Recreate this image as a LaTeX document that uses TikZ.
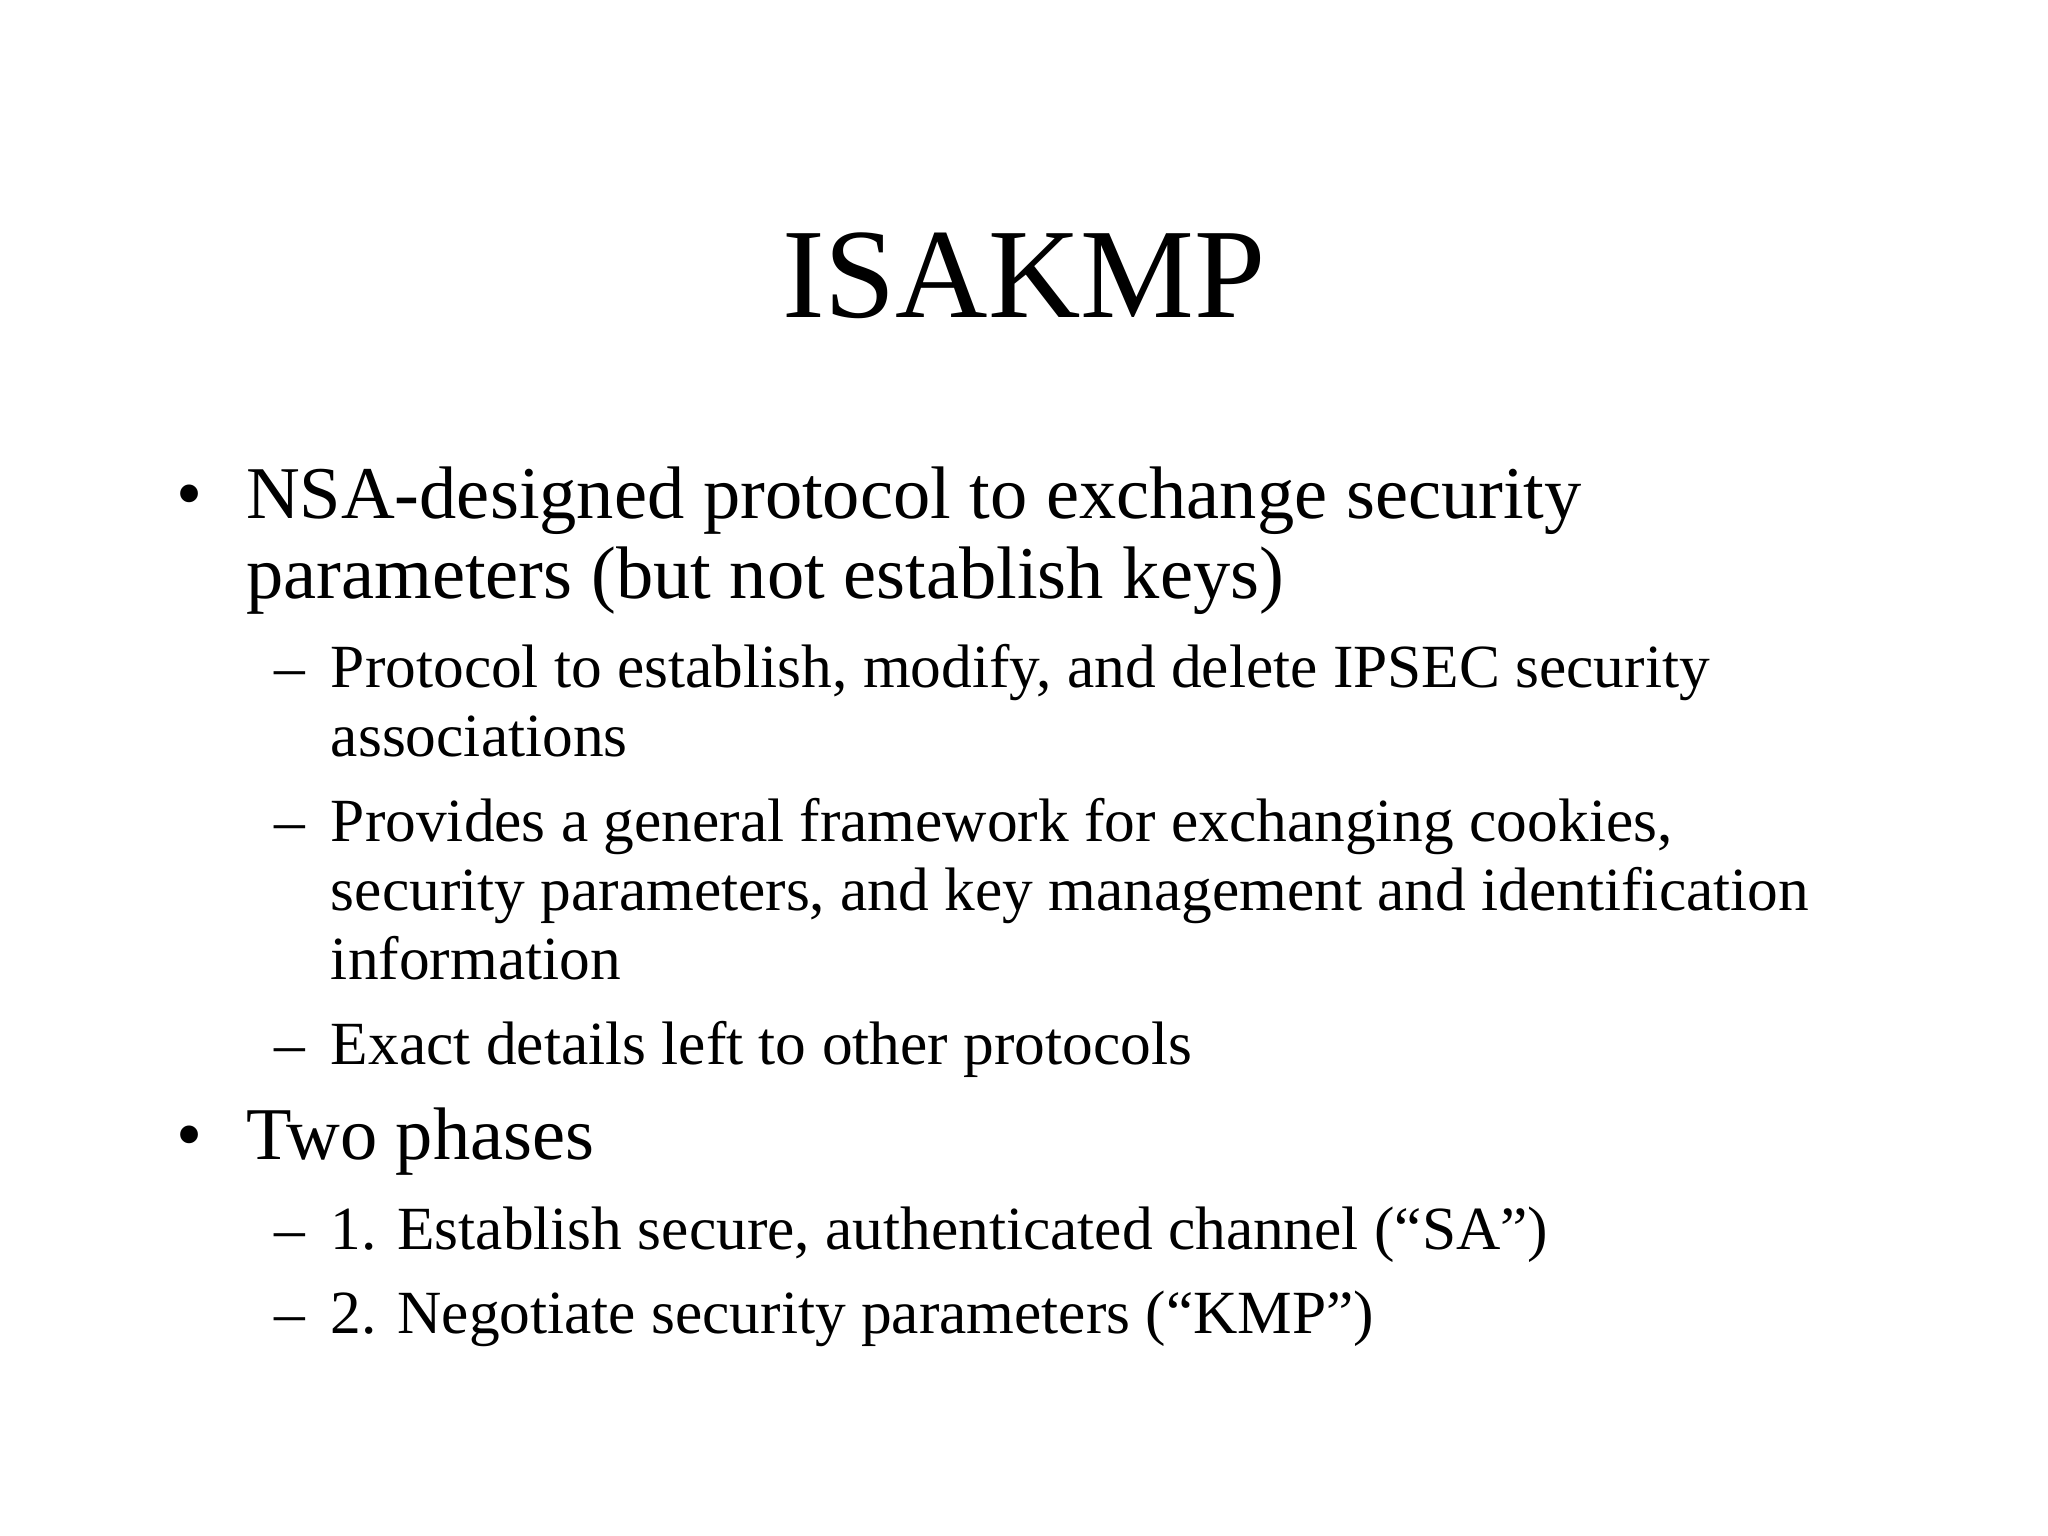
\documentclass[tikz,border=0pt]{standalone}
\usepackage{fontspec}
\setmainfont{Liberation Serif}
\begin{document}
\begin{tikzpicture}[x=0.5pt,y=-0.5pt,
  t/.style={anchor=base west,inner sep=0pt},
  lone/.style={t,font=\fontsize{28.5}{31}\selectfont},
  ltwo/.style={t,font=\fontsize{23.5}{27}\selectfont}]
\useasboundingbox[fill=white] (0,0) rectangle (1568,1176);
\node[anchor=base,inner sep=0pt,font=\fontsize{49}{55}\selectfont] (title) at (784,243) {ISAKMP};
\node[lone] (b1) at (135,397) {•};
\node[lone] (l1a) at (188,397) {NSA-designed protocol to exchange security};
\node[lone] (l1b) at (188,458) {parameters (but not establish keys)};
\node[ltwo] (d1) at (210,526) {–};
\node[ltwo] (s1a) at (253,526) {Protocol to establish, modify, and delete IPSEC security};
\node[ltwo] (s1b) at (253,579) {associations};
\node[ltwo] (d2) at (210,644) {–};
\node[ltwo] (s2a) at (253,644) {Provides a general framework for exchanging cookies,};
\node[ltwo] (s2b) at (253,697) {security parameters, and key management and identification};
\node[ltwo] (s2c) at (253,750) {information};
\node[ltwo] (d3) at (210,815) {–};
\node[ltwo] (s3) at (253,815) {Exact details left to other protocols};
\node[lone] (b2) at (135,888) {•};
\node[lone] (l2) at (188,888) {Two phases};
\node[ltwo] (d4) at (210,957) {–};
\node[ltwo] (s4) at (253,957) {1. Establish secure, authenticated channel (“SA”)};
\node[ltwo] (d5) at (210,1021) {–};
\node[ltwo] (s5) at (253,1021) {2. Negotiate security parameters (“KMP”)};
\end{tikzpicture}
\end{document}
